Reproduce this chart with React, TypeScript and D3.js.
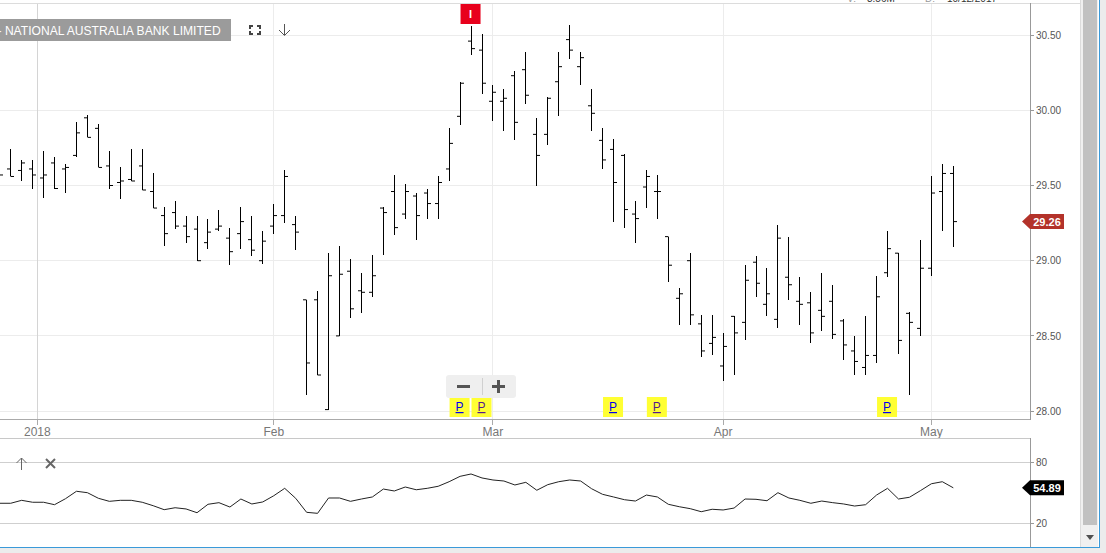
import React from 'react';
import * as d3 from 'd3';

// ---- data (first bar is the partially visible one at the left edge) ----
const opens = [29.62,29.61,29.60,29.61,29.55,29.65,29.61,29.70,29.95,29.88,29.63,29.52,29.54,29.63,29.46,29.30,29.32,29.23,29.21,29.12,29.21,29.15,29.18,29.14,29.00,29.23,29.30,29.24,28.74,28.74,28.01,28.50,28.93,28.80,28.79,29.35,29.46,29.31,29.43,29.45,29.38,29.61,29.96,30.46,30.40,30.06,30.06,30.23,30.27,29.84,29.84,30.19,30.47,30.29,30.03,29.80,29.74,29.70,29.31,29.49,29.46,29.16,28.75,29.00,28.58,28.45,28.30,28.63,28.59,28.99,28.71,28.61,28.89,28.73,28.72,28.67,28.73,28.60,28.40,28.29,28.37,28.92,29.05,28.65,28.55,28.95,29.46,29.58];
const highs = [29.70,29.74,29.67,29.67,29.73,29.69,29.64,29.92,29.97,29.91,29.73,29.62,29.74,29.74,29.58,29.36,29.40,29.30,29.30,29.28,29.34,29.22,29.36,29.30,29.20,29.38,29.60,29.30,28.74,28.80,29.05,29.10,29.01,28.92,29.04,29.36,29.57,29.51,29.45,29.48,29.56,29.88,30.19,30.56,30.51,30.17,30.14,30.26,30.39,29.95,30.09,30.39,30.57,30.39,30.14,29.88,29.81,29.71,29.40,29.60,29.57,29.16,28.82,29.05,28.64,28.64,28.52,28.63,28.97,29.03,28.95,29.24,29.16,28.89,28.79,28.92,28.84,28.61,28.50,28.63,28.90,29.20,29.05,28.66,29.14,29.56,29.64,29.63];
const lows = [29.52,29.56,29.53,29.48,29.42,29.48,29.45,29.69,29.82,29.62,29.48,29.41,29.53,29.47,29.35,29.10,29.21,29.12,29.00,29.08,29.20,28.97,29.08,29.03,28.98,29.18,29.25,29.07,28.11,28.24,28.01,28.50,28.62,28.65,28.76,29.04,29.17,29.28,29.14,29.28,29.28,29.53,29.90,30.37,30.11,29.93,29.86,29.80,30.04,29.50,29.77,29.96,30.34,30.17,29.86,29.61,29.26,29.22,29.12,29.35,29.28,28.86,28.57,28.57,28.36,28.37,28.20,28.24,28.47,28.76,28.63,28.55,28.74,28.57,28.45,28.53,28.48,28.34,28.24,28.24,28.32,28.89,28.38,28.11,28.50,28.90,29.20,29.09];
const closes = [29.57,29.56,29.65,29.57,29.57,29.48,29.62,29.85,29.82,29.62,29.50,29.53,29.53,29.47,29.35,29.18,29.23,29.16,29.00,29.19,29.23,29.06,29.26,29.07,29.13,29.30,29.56,29.19,28.32,28.24,28.90,28.91,28.68,28.79,28.90,29.32,29.22,29.46,29.30,29.38,29.52,29.78,30.18,30.41,30.18,30.12,30.08,29.92,30.10,29.70,30.08,30.29,30.40,30.35,29.98,29.67,29.52,29.34,29.28,29.56,29.46,28.97,28.78,28.64,28.40,28.49,28.43,28.52,28.87,28.85,28.78,29.15,28.84,28.71,28.52,28.63,28.51,28.44,28.33,28.37,28.76,29.08,28.47,28.59,28.95,29.45,29.58,29.26];
const oscValues = [39.7,39.7,42.6,40.7,40.7,38.3,44.2,51.5,50.1,44.6,41.6,42.6,42.6,40.7,37.3,33.4,35.3,34.1,30.4,38.7,40.3,36.0,43.9,39.0,41.0,47.1,54.4,44.6,30.8,29.8,44.9,44.9,41.6,43.9,45.9,53.7,51.8,55.7,53.0,54.4,56.4,60.9,66.2,68.5,64.6,62.6,61.6,57.7,60.3,52.5,58.0,60.9,62.6,61.6,54.0,48.5,45.9,43.2,41.9,47.8,45.9,38.7,36.3,34.4,31.4,33.8,33.1,35.0,43.9,43.6,42.2,50.1,44.9,42.6,39.7,41.9,40.3,39.0,37.0,38.3,47.8,54.4,43.9,45.6,52.1,58.9,60.9,54.89];

const priceTicks = [28.0, 28.5, 29.0, 29.5, 30.0, 30.5];
const oscTicks = [20, 80];
const timeTickLabels = ['2018', 'Feb', 'Mar', 'Apr', 'May'];
const timeTickBars = [3.43, 25, 45, 66, 85]; // positions in bar units (array index)
const title = '- NATIONAL AUSTRALIA BANK LIMITED';
const eventBar = 43;
const eventLabel = 'I';
const pMarkerBars = [42, 44, 56, 60, 81];
const pMarkerVisited = [false, true, false, true, false];
const infoLabels = ['V:', 'D:'];
const infoValues = ['3.56M', '10/12/2017'];
const lastPrice = closes[closes.length - 1];
const lastOsc = oscValues[oscValues.length - 1];

const FONT = '"Liberation Sans", Arial, Helvetica, sans-serif';

export default function App() {
  const x = d3.scaleLinear().domain([1, 87]).range([10.7, 953.3]);
  const y = d3.scaleLinear().domain([28, 30.5]).range([411.1, 35.1]);
  const yo = d3.scaleLinear().domain([20, 80]).range([523.3, 462.3]);

  const snap = (v: number) => Math.floor(v) + 0.5;

  const oscLine = d3.line<number>()
    .x((_, i) => x(i))
    .y((d) => yo(d));

  const priceFmt = d3.format('.2f');

  const tagPath = (cy: number) =>
    `M1022,${cy} L1030,${cy - 7.5} L1064,${cy - 7.5} L1064,${cy + 7.5} L1030,${cy + 7.5} Z`;

  const infoLabelX = [847, 925];
  const infoValueX = [867, 947];

  return (
    <div style={{ position: 'absolute', left: 0, top: 0, width: 1106, height: 553 }}>
      <svg width={1106} height={553} style={{ display: 'block', fontFamily: FONT }}>
        <rect x={0} y={0} width={1106} height={553} fill="#ffffff" />

        {/* clipped top info text (only the bottoms of the glyphs show) */}
        {infoLabels.map((l, i) => (
          <g key={'info' + i} fontSize={10}>
            <text x={infoLabelX[i]} y={2} fill="#999">{l}</text>
            <text x={infoValueX[i]} y={2} fill="#333">{infoValues[i]}</text>
          </g>
        ))}

        {/* top border */}
        <line x1={0} x2={1080} y1={3.5} y2={3.5} stroke="#dcdcdc" />

        {/* horizontal grid */}
        {priceTicks.map((p) => (
          <line key={'hg' + p} x1={0} x2={1030} y1={snap(y(p))} y2={snap(y(p))} stroke="#ececec" />
        ))}
        {/* vertical grid */}
        {timeTickBars.map((b, i) => (
          <line key={'vg' + i} x1={snap(x(b))} x2={snap(x(b))} y1={4} y2={419}
            stroke={i === 0 ? '#d4d4d4' : '#ececec'} />
        ))}

        {/* OHLC bars */}
        <g stroke="#000" strokeWidth={1}>
          {opens.map((o, i) => {
            const cx = snap(x(i));
            return (
              <g key={'b' + i}>
                <line x1={cx} x2={cx} y1={y(highs[i])} y2={y(lows[i])} shapeRendering="crispEdges" />
                <line x1={cx - 3.5} x2={cx} y1={y(o)} y2={y(o)} />
                <line x1={cx} x2={cx + 3.5} y1={y(closes[i])} y2={y(closes[i])} />
              </g>
            );
          })}
        </g>

        {/* event marker */}
        <rect x={x(eventBar) - 10.5} y={4} width={20} height={20} fill="#e8001c" />
        <text x={x(eventBar) - 0.5} y={18} fill="#fff" fontSize={11} fontWeight="bold" textAnchor="middle">{eventLabel}</text>

        {/* P markers */}
        {pMarkerBars.map((b, i) => (
          <g key={'p' + i}>
            <rect x={x(b) - 10.5} y={397} width={20} height={20} fill="#ffff33" />
            <text x={x(b) - 0.5} y={411} fontSize={12} textAnchor="middle"
              fill={pMarkerVisited[i] ? '#551a8b' : '#0000ee'} textDecoration="underline">P</text>
          </g>
        ))}

        {/* zoom control */}
        <rect x={446} y={375} width={70} height={23} rx={3} fill="#efefef" />
        <line x1={482.5} x2={482.5} y1={378} y2={395} stroke="#d0d0d0" />
        <rect x={457} y={385} width={13} height={3} fill="#555" />
        <rect x={492} y={385} width={13} height={3} fill="#555" />
        <rect x={497} y={380} width={3} height={13} fill="#555" />

        {/* title */}
        <rect x={0} y={19} width={231} height={22} fill="#9b9b9b" />
        <text x={-2.5} y={34.5} fill="#fff" fontSize={12.1}>{title}</text>
        {/* fullscreen icon */}
        <g stroke="#444" strokeWidth={2} fill="none">
          <path d="M250,29 L250,26 L253,26" />
          <path d="M257,26 L260,26 L260,29" />
          <path d="M250,31 L250,34 L253,34" />
          <path d="M257,34 L260,34 L260,31" />
        </g>
        {/* download arrow */}
        <g stroke="#555" strokeWidth={1} fill="none">
          <line x1={284.5} x2={284.5} y1={24} y2={35} />
          <path d="M279,30 L284.5,35.5 L290,30" />
        </g>

        {/* right price axis */}
        <line x1={1030.5} x2={1030.5} y1={3} y2={420} stroke="#999" />
        {priceTicks.map((p) => (
          <g key={'pt' + p}>
            <line x1={1030} x2={1034} y1={snap(y(p))} y2={snap(y(p))} stroke="#999" />
            <text x={1036} y={y(p) + 3.6} fontSize={10} fill="#555">{priceFmt(p)}</text>
          </g>
        ))}

        {/* x axis */}
        <line x1={0} x2={1030} y1={419.5} y2={419.5} stroke="#aaa" />
        {timeTickBars.map((b, i) => (
          <g key={'xt' + i}>
            <line x1={snap(x(b))} x2={snap(x(b))} y1={419} y2={425} stroke="#aaa" />
            <text x={x(b)} y={436} fontSize={12} fill="#777" textAnchor="middle">{timeTickLabels[i]}</text>
          </g>
        ))}

        {/* last price tag */}
        <path d={tagPath(y(lastPrice))} fill="#b3322a" />
        <text x={1047} y={y(lastPrice) + 4} fontSize={11} fontWeight="bold" fill="#fff" textAnchor="middle">{priceFmt(lastPrice)}</text>

        {/* oscillator panel */}
        <line x1={0} x2={1030} y1={438.5} y2={438.5} stroke="#c8c8c8" />
        {oscTicks.map((t) => (
          <g key={'og' + t}>
            <line x1={0} x2={1030} y1={snap(yo(t))} y2={snap(yo(t))} stroke="#cfcfcf" />
            <line x1={1030} x2={1034} y1={snap(yo(t))} y2={snap(yo(t))} stroke="#999" />
            <text x={1036} y={yo(t) + 3.6} fontSize={10} fill="#555">{t}</text>
          </g>
        ))}
        <line x1={1030.5} x2={1030.5} y1={438} y2={547} stroke="#999" />
        <path d={oscLine(oscValues) || ''} fill="none" stroke="#222" strokeWidth={1} />
        <path d={tagPath(yo(lastOsc))} fill="#000" />
        <text x={1047} y={yo(lastOsc) + 4} fontSize={11} fontWeight="bold" fill="#fff" textAnchor="middle">{priceFmt(lastOsc)}</text>

        {/* oscillator icons */}
        <g stroke="#666" fill="none">
          <line x1={21.5} x2={21.5} y1={458} y2={470} strokeWidth={1} />
          <path d="M16.5,463 L21.5,458 L26.5,463" strokeWidth={1} />
          <path d="M46,459 L55,468 M55,459 L46,468" strokeWidth={2} />
        </g>

        {/* container border + scrollbar */}
        <line x1={1080.5} x2={1080.5} y1={0} y2={547} stroke="#dcdcdc" />
        <rect x={1081} y={0} width={17} height={547} fill="#f0f0f0" />
        <rect x={1083} y={0} width={14} height={525} fill="#c1c1c1" />
        <path d="M1086,535 L1094,535 L1090,540 Z" fill="#505050" />
        <rect x={0} y={548} width={1106} height={5} fill="#ececec" />
        <rect x={1100} y={0} width={6} height={553} fill="#ececec" />
        <line x1={0} x2={1099.5} y1={547.5} y2={547.5} stroke="#3a9ad9" />
        <line x1={1099.5} x2={1099.5} y1={0} y2={548} stroke="#3a9ad9" />
      </svg>
    </div>
  );
}
